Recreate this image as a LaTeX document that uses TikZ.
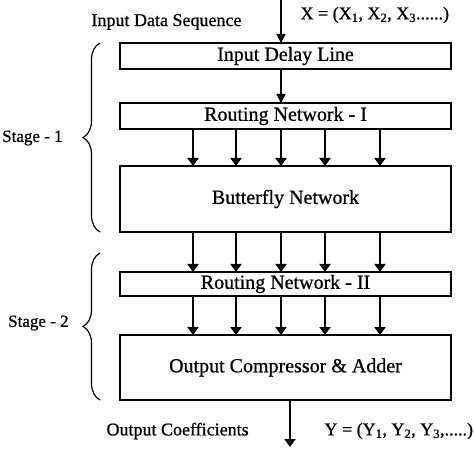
\documentclass[tikz,border=0pt]{standalone}
\usepackage{fontspec}
\setmainfont{Liberation Serif}[FakeBold=0.8]
\usetikzlibrary{arrows.meta,positioning,decorations.pathreplacing}

\begin{document}
\begin{tikzpicture}[x=1pt, y=-1pt,
        every node/.style={font=\fontsize{18}{21}\selectfont},
        block/.style={draw, line width=1.8pt, minimum width=331pt, inner sep=0pt, outer sep=0pt,
            font=\fontsize{20}{23}\selectfont},
        flow/.style={line width=2.8pt, -{Triangle[length=8pt,width=11pt]}},
        feed/.style={line width=1.4pt, -{Triangle[length=9pt,width=9pt]}},
        stage/.style={decorate, decoration={brace, amplitude=17pt}, line width=1.2pt}]

    \useasboundingbox (0,0) rectangle (474,449);

    % blocks
    \node[block, minimum height=26pt] (delay) at (285.5,56) {Input Delay Line};
    \node[block, minimum height=26pt, below=34pt of delay] (route1) {Routing Network - I};
    \node[block, minimum height=66pt, below=37pt of route1] (bfly) {Butterfly Network};
    \node[block, minimum height=24pt, below=40pt of bfly] (route2) {Routing Network - II};
    \node[block, minimum height=65pt, below=39pt of route2] (comp) {Output Compressor \& Adder};

    % labels
    \node[anchor=west] (inlabel) at (88,22) {Input Data Sequence};
    \node[anchor=west] (xseq) at (297,15) {X = (X\textsubscript{1}, X\textsubscript{2}, X\textsubscript{3}......)};
    \node[anchor=west] (outlabel) at (103,431) {Output Coefficients};
    \node[anchor=west] (yseq) at (321,431) {Y = (Y\textsubscript{1}, Y\textsubscript{2}, Y\textsubscript{3},.....)};
    \node[anchor=west, inner sep=1pt, font=\fontsize{17}{20}\selectfont] (stage1) at (1,138) {Stage - 1};
    \node[anchor=west, inner sep=1pt, font=\fontsize{17}{20}\selectfont] (stage2) at (7,323) {Stage - 2};

    % braces
    \draw[stage] ([xshift=-20pt]bfly.south west) -- ([xshift=-20pt]delay.north west);
    \draw[stage] ([xshift=-20pt]comp.south west) -- ([shift={(-20pt,19pt)}]route2.north west);

    % data flow
    \coordinate (src) at (281,0);
    \coordinate (sink) at (290,447);
    \draw[feed] (src) -- (src |- delay.north);
    \draw[feed] ([xshift=-4.5pt]delay.south) -- ([xshift=-4.5pt]route1.north);
    \foreach \dx in {-92.5,-49.5,-4.5,39.5,94.5} {
        \draw[flow] ([xshift=\dx pt]route1.south) -- ([xshift=\dx pt]bfly.north);
        \draw[flow] ([xshift=\dx pt]bfly.south) -- ([xshift=\dx pt]route2.north);
        \draw[flow] ([xshift=\dx pt]route2.south) -- ([xshift=\dx pt]comp.north);
    }
    \draw[flow] (comp.south -| sink) -- (sink);
\end{tikzpicture}
\end{document}
